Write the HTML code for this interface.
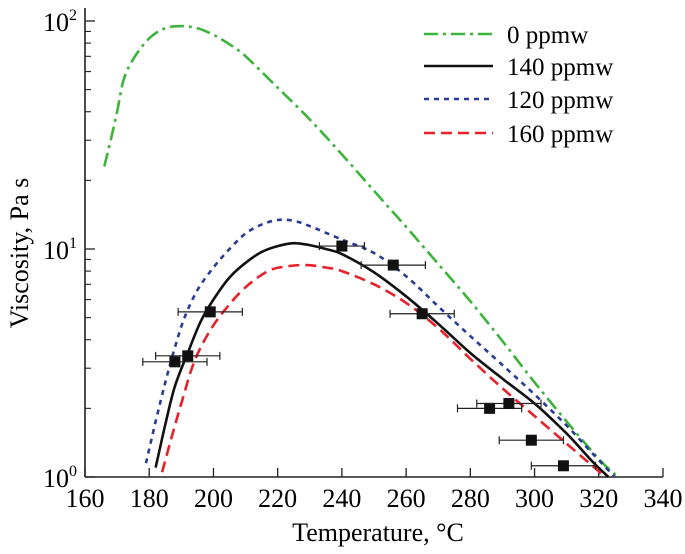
<!DOCTYPE html>
<html><head><meta charset="utf-8"><style>
body{margin:0;background:#fff}
svg, svg text{font-family:"Liberation Serif","Times New Roman",serif}
</style></head><body>
<svg id="chart" width="685" height="549" viewBox="0 0 685 549" xmlns="http://www.w3.org/2000/svg" font-family="Liberation Serif, Times New Roman, serif">
<g id="axes"></g>
<g id="series"></g>
<g id="points"></g>
<g id="legend"></g>
<text x="378" y="541" font-size="26" text-anchor="middle" font-family="Liberation Serif, serif">Temperature, °C</text>
<text transform="translate(28,253) rotate(-90)" font-size="26" text-anchor="middle" font-family="Liberation Serif, serif">Viscosity, Pa s</text>
</svg>
<script>
const xTicks=[160,180,200,220,240,260,280,300,320,340];
const yDecades=[0,1,2];
const seriesNames=["0 ppmw","140 ppmw","120 ppmw","160 ppmw"];
const green=[[166,23],[168,30],[170,40],[172,55],[175,68],[180,84],[185,93],[190,95],[195,93],[200,87],[205,79],[210,70],[220,51],[230,37],[240,26],[250,18],[260,12.5],[270,8.6],[280,5.9],[290,3.95],[300,2.6],[310,1.75],[320,1.2],[326,1.0]];
const black=[[182,1.1],[185,1.7],[188,2.5],[192,3.5],[196,4.8],[200,6.0],[205,7.5],[210,8.7],[215,9.7],[220,10.3],[225,10.6],[230,10.4],[235,10.0],[240,9.5],[250,7.9],[260,6.2],[270,4.7],[280,3.5],[290,2.7],[300,2.1],[310,1.55],[318,1.17],[323,1.0]];
const blue=[[179,1.15],[182,1.75],[185,2.6],[188,3.7],[191,5.0],[195,6.6],[200,8.3],[205,10],[210,11.7],[215,12.8],[220,13.4],[225,13.3],[230,12.6],[240,11],[250,9.6],[260,7.6],[270,5.6],[280,4.15],[290,3.1],[300,2.3],[310,1.68],[318,1.27],[325,1.0]];
const red=[[184,1.05],[187,1.5],[190,2.1],[194,3.2],[199,4.4],[204,5.5],[210,6.8],[217,8.0],[223,8.4],[229,8.5],[235,8.3],[240,8.0],[250,7.0],[260,5.8],[270,4.5],[280,3.3],[290,2.45],[300,1.85],[310,1.4],[318,1.12],[322,1.0]];
const ptsT=[188,192,199,240,256,265,286,292,299,309];
const ptsV=[3.2,3.4,5.3,10.3,8.5,5.2,2.0,2.1,1.45,1.12];
const ptsErr=[10,10,10,7,10,10,10,10,10,10];

const NS="http://www.w3.org/2000/svg";
const FF="Liberation Serif, Times New Roman, serif";
const X0=85,X1=663,Y0=477,DEC=228;
const xs=t=>X0+(t-160)*(X1-X0)/180;
const ys=v=>Y0-Math.log10(v)*DEC;
function mk(tag,attrs,parent){const e=document.createElementNS(NS,tag);for(const k in attrs)e.setAttribute(k,attrs[k]);parent.appendChild(e);return e;}
function smooth(pts){
  const p=pts.map(q=>[xs(q[0]),ys(q[1])]);
  let d='M'+p[0][0].toFixed(1)+','+p[0][1].toFixed(1);
  for(let i=0;i<p.length-1;i++){
    const a=p[Math.max(i-1,0)],b=p[i],c=p[i+1],e=p[Math.min(i+2,p.length-1)];
    const c1=[b[0]+(c[0]-a[0])/6,b[1]+(c[1]-a[1])/6],c2=[c[0]-(e[0]-b[0])/6,c[1]-(e[1]-b[1])/6];
    d+=` C${c1[0].toFixed(1)},${c1[1].toFixed(1)} ${c2[0].toFixed(1)},${c2[1].toFixed(1)} ${c[0].toFixed(1)},${c[1].toFixed(1)}`;
  }
  return d;
}
const ax=document.getElementById('axes');
let e=mk('line',{x1:X0,y1:Y0,x2:X1,y2:Y0,stroke:'#222','stroke-width':1.6},ax);


e=mk('line',{x1:X0,y1:Y0,x2:X0,y2:8,stroke:'#222','stroke-width':1.6},ax);


xTicks.forEach(t=>{
  const l=mk('line',{x1:xs(t),y1:Y0,x2:xs(t),y2:Y0-9,stroke:'#222','stroke-width':1.3},ax);
  
  
  const tx=mk('text',{x:xs(t),y:Y0+30,'font-size':26,'text-anchor':'middle','font-family':FF},ax);
  tx.textContent=t;
  
  
});
yDecades.forEach(d=>{
  const y=ys(Math.pow(10,d));
  const l=mk('line',{x1:X0,y1:y,x2:X0+10,y2:y,stroke:'#222','stroke-width':1.3},ax);
  
  
  const tx=mk('text',{x:X0-8,y:y+10,'font-size':26,'text-anchor':'end','font-family':FF},ax);
  tx.innerHTML='10<tspan dy="-11" font-size="16">'+d+'</tspan>';
  
  
  if(d<2)for(let m=2;m<10;m++){
    const ym=ys(m*Math.pow(10,d));
    const ml=mk('line',{x1:X0,y1:ym,x2:X0+6,y2:ym,stroke:'#222','stroke-width':1.1},ax);
    
    
  }
});
const styles=[
 {d:green,c:'#3cb43c',dash:'14,5,3,5',n:'curve-0-ppmw'},
 {d:black,c:'#111',dash:'',n:'curve-140-ppmw'},
 {d:blue,c:'#283c96',dash:'5,5',n:'curve-120-ppmw'},
 {d:red,c:'#e8202a',dash:'11,6',n:'curve-160-ppmw'}];
const sg=document.getElementById('series');
styles.forEach(s=>{
  const p=mk('path',{d:smooth(s.d),fill:'none',stroke:s.c,'stroke-width':2.6,'stroke-dasharray':s.dash,'stroke-linejoin':'round'},sg);
  
  
});
const pg=document.getElementById('points');
ptsT.forEach((t,i)=>{
  const x=xs(t),y=ys(ptsV[i]),x1=xs(t-ptsErr[i]),x2=xs(t+ptsErr[i]);
  const g=mk('g',{},pg);
  
  
  mk('path',{d:`M${x1},${y} L${x2},${y} M${x1},${y-4} L${x1},${y+4} M${x2},${y-4} L${x2},${y+4}`,stroke:'#222','stroke-width':1.2,fill:'none'},g);
  mk('rect',{x:x-5.5,y:y-5.5,width:11,height:11,fill:'#111'},g);
});
const lg=document.getElementById('legend');
const rowsY=[34,66,99,133];
styles.forEach((s,i)=>{
  const g=mk('g',{},lg);
  
  
  mk('line',{x1:424,y1:rowsY[i],x2:493,y2:rowsY[i],stroke:s.c,'stroke-width':2.6,'stroke-dasharray':s.dash},g);
  const tx=mk('text',{x:507,y:rowsY[i]+9,'font-size':25,'font-family':FF},g);
  tx.textContent=seriesNames[i];
});
</script>
</body></html>
